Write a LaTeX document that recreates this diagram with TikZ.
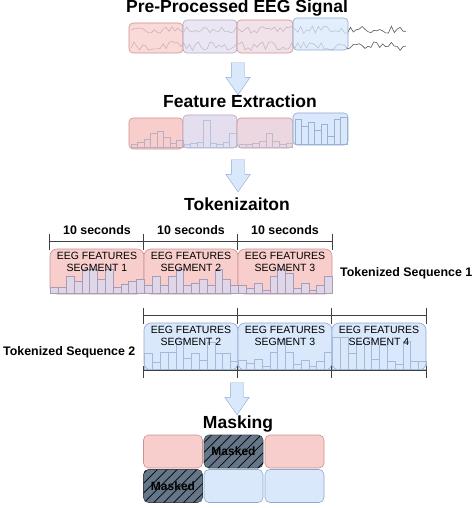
\documentclass[tikz,border=0pt]{standalone}
\usepackage{fontspec}
\setmainfont{Liberation Sans}
\usetikzlibrary{shapes.arrows,patterns.meta}
\definecolor{tokred}{HTML}{F8CECC}
\definecolor{redline}{HTML}{CF918F}
\definecolor{tokblue}{HTML}{DAE8FC}
\definecolor{blueline}{HTML}{8FA9CF}
\definecolor{lavender}{HTML}{E4DEEF}
\definecolor{pinkish}{HTML}{ECD7E0}
\definecolor{purpleline}{HTML}{B3A6C2}
\definecolor{barfill}{HTML}{DFD6E7}
\definecolor{barline}{HTML}{A79BB5}
\definecolor{maskgrey}{HTML}{647687}
\definecolor{maskline}{HTML}{3E4A57}
\definecolor{wavegrey}{HTML}{5A5A5A}
% bars of a feature histogram: style, left x, base y, bar width, heights
\newcommand{\segbars}[5]{\foreach \h [count=\i from 0] in {#5} \draw[#1] ({#2+\i*#4},#3) rectangle ++(#4,-\h);}
\begin{document}
\begin{tikzpicture}%
[x=1pt,y=-1pt,
title/.style={font=\bfseries\fontsize{17.5}{20}\selectfont, anchor=base, inner sep=0pt},%
label/.style={font=\bfseries\fontsize{12.4}{14}\selectfont, anchor=base, inner sep=0pt},%
blockarrow/.style={single arrow, single arrow tip angle=70, single arrow head extend=5.5pt,
  rotate=-90, draw=blueline, fill=tokblue, minimum height=32pt, inner xsep=0pt, inner ysep=6.5pt},%
win/.style={rounded corners=4pt, inner sep=0pt, line width=0.6pt, fill opacity=0.75},%
token/.style={rounded corners=7pt, inner sep=0pt, minimum width=94pt, line width=0.6pt},%
segtext/.style={anchor=north, align=center, font=\fontsize{10.5}{11.6}\selectfont, inner sep=0pt},%
cell/.style={rounded corners=5pt, minimum width=59pt, minimum height=33pt, inner sep=0pt,
  line width=0.6pt, font=\bfseries\fontsize{12}{14}\selectfont},%
masked/.style={cell, fill=maskgrey, draw=maskline,
  postaction={pattern={Lines[angle=45,distance=7pt,line width=0.7pt]}, pattern color=black}},%
dim/.style={draw=black!75, line width=0.8pt},%
wave/.style={draw=wavegrey, line width=0.6pt}]
\useasboundingbox (0,0) rectangle (474,508);

% pre-processed signal
\node[title] (pre) at (237,13) {Pre-Processed EEG Signal};
\pgfmathsetseed{11}
\draw[wave] plot[domain=131:406, samples=95] (\x,{30+3.8*rand});
\draw[wave] plot[domain=131:406, samples=95] (\x,{46+4.5*rand});
\node[win, fill=tokred, draw=redline, minimum width=54pt, minimum height=30pt] (w1) at (156,38) {};
\node[win, fill=lavender, draw=purpleline, minimum width=54pt, minimum height=33pt] (w2) at (210,36.5) {};
\node[win, fill=pinkish, draw=redline, minimum width=56pt, minimum height=33pt] (w3) at (265,36.5) {};
\node[win, fill=tokblue, draw=blueline, minimum width=55pt, minimum height=32pt] (w4) at (320.5,34) {};
\node[blockarrow] (ar1) at (238,74) {};

% feature extraction
\node[title] (feat) at (240,108) {Feature Extraction};
\node[win, fill=tokred, draw=redline, minimum width=54pt, minimum height=31pt, fill opacity=1] (f1) at (156,133.5) {};
\node[win, fill=lavender, draw=purpleline, minimum width=54pt, minimum height=33pt, fill opacity=1] (f2) at (210,131.5) {};
\node[win, fill=pinkish, draw=redline, minimum width=56pt, minimum height=30pt, fill opacity=1] (f3) at (265,133) {};
\node[win, fill=tokblue, draw=blueline, minimum width=55pt, minimum height=32pt, fill opacity=1] (f4) at (320.5,129) {};
\segbars{draw=barline!80}{131}{147}{6.5}{3,5,8,14,16,10,4,7}
\segbars{draw=blueline!70}{184}{147}{6.5}{3,4,5,27,4,3,5,14}
\segbars{draw=barline!70}{239}{147}{6.7}{3,3,4,6,14,6,3,4}
\segbars{draw=blueline!90}{295}{144}{6.5}{25,18,22,14,20,8,25,27}
\node[blockarrow] (ar2) at (238,171) {};

% tokenization
\node[title] (tok) at (237,210) {Tokenizaiton};
\node[token, fill=tokred, draw=redline, minimum height=45pt] (a1) at (97,271.5) {};
\node[token, fill=tokred, draw=redline, minimum height=45pt] (a2) at (191,271.5) {};
\node[token, fill=tokred, draw=redline, minimum height=45pt] (a3) at (285,271.5) {};
\segbars{draw=barline, fill=barfill}{50.5}{293}{7.8}{6,6,17,12,24,24,14,24,6,9,12,14}
\segbars{draw=barline, fill=barfill}{144.5}{293}{7.8}{8,17,8,17,24,8,10,14,8,24,14,8}
\segbars{draw=barline, fill=barfill}{238.5}{293}{7.8}{8,5,10,3,17,24,20,5,10,3,8,17}
\node[segtext] at ([yshift=-3.5pt]a1.north) {EEG FEATURES\\SEGMENT 1};
\node[segtext] at ([yshift=-3.5pt]a2.north) {EEG FEATURES\\SEGMENT 2};
\node[segtext] at ([yshift=-3.5pt]a3.north) {EEG FEATURES\\SEGMENT 3};
\draw[dim] ([yshift=7pt]a1.north west) -- ([yshift=7pt]a3.north east);
\foreach \n in {a1,a2,a3}
  \draw[dim] ([yshift=15pt]\n.north west) -- ([yshift=-1pt]\n.north west);
\draw[dim] ([yshift=15pt]a3.north east) -- ([yshift=-1pt]a3.north east);
\node[label] at (97,234) {10 seconds};
\node[label] at (191,234) {10 seconds};
\node[label] at (285,234) {10 seconds};
\node[label, anchor=base west] (seq1) at (340,276) {Tokenized Sequence 1};

\node[token, fill=tokblue, draw=blueline, minimum height=47pt] (b1) at (191,346.5) {};
\node[token, fill=tokblue, draw=blueline, minimum height=47pt] (b2) at (285,346.5) {};
\node[token, fill=tokblue, draw=blueline, minimum height=47pt] (b3) at (379,346.5) {};
\segbars{draw=blueline!80}{144.5}{369}{7.8}{16,7,17,17,30,11,16,9,27,16,16,8}
\segbars{draw=blueline!80}{238.5}{369}{7.8}{9,6,10,3,17,30,17,5,9,3,8,17}
\segbars{draw=blueline!80}{332.5}{369}{7.8}{32,32,16,26,32,10,24,8,5,28,8,8}
\node[segtext] at ([yshift=-3.5pt]b1.north) {EEG FEATURES\\SEGMENT 2};
\node[segtext] at ([yshift=-3.5pt]b2.north) {EEG FEATURES\\SEGMENT 3};
\node[segtext] at ([yshift=-3.5pt]b3.north) {EEG FEATURES\\SEGMENT 4};
\draw[dim] ([yshift=7pt]b1.north west) -- ([yshift=7pt]b3.north east);
\draw[dim] (b1.south west) -- (b3.south east);
\foreach \n in {b1,b2,b3}{
  \draw[dim] ([yshift=15pt]\n.north west) -- ([yshift=-1pt]\n.north west);
  \draw[dim] ([yshift=4pt]\n.south west) -- ([yshift=-8pt]\n.south west);}
\draw[dim] ([yshift=15pt]b3.north east) -- ([yshift=-1pt]b3.north east);
\draw[dim] ([yshift=4pt]b3.south east) -- ([yshift=-8pt]b3.south east);
\node[label, anchor=base west] (seq2) at (3,355) {Tokenized Sequence 2};
\node[blockarrow] (ar3) at (237,394) {};

% masking
\node[title] (mask) at (238,428) {Masking};
\node[cell, fill=tokred, draw=redline] (m11) at (173,451.5) {};
\node[masked] (m12) at (233.5,451.5) {Masked};
\node[cell, fill=tokred, draw=redline] (m13) at (294.5,451.5) {};
\node[masked] (m21) at (173,486) {Masked};
\node[cell, fill=tokblue, draw=blueline] (m22) at (233.5,486) {};
\node[cell, fill=tokblue, draw=blueline] (m23) at (294.5,486) {};
\end{tikzpicture}
\end{document}
